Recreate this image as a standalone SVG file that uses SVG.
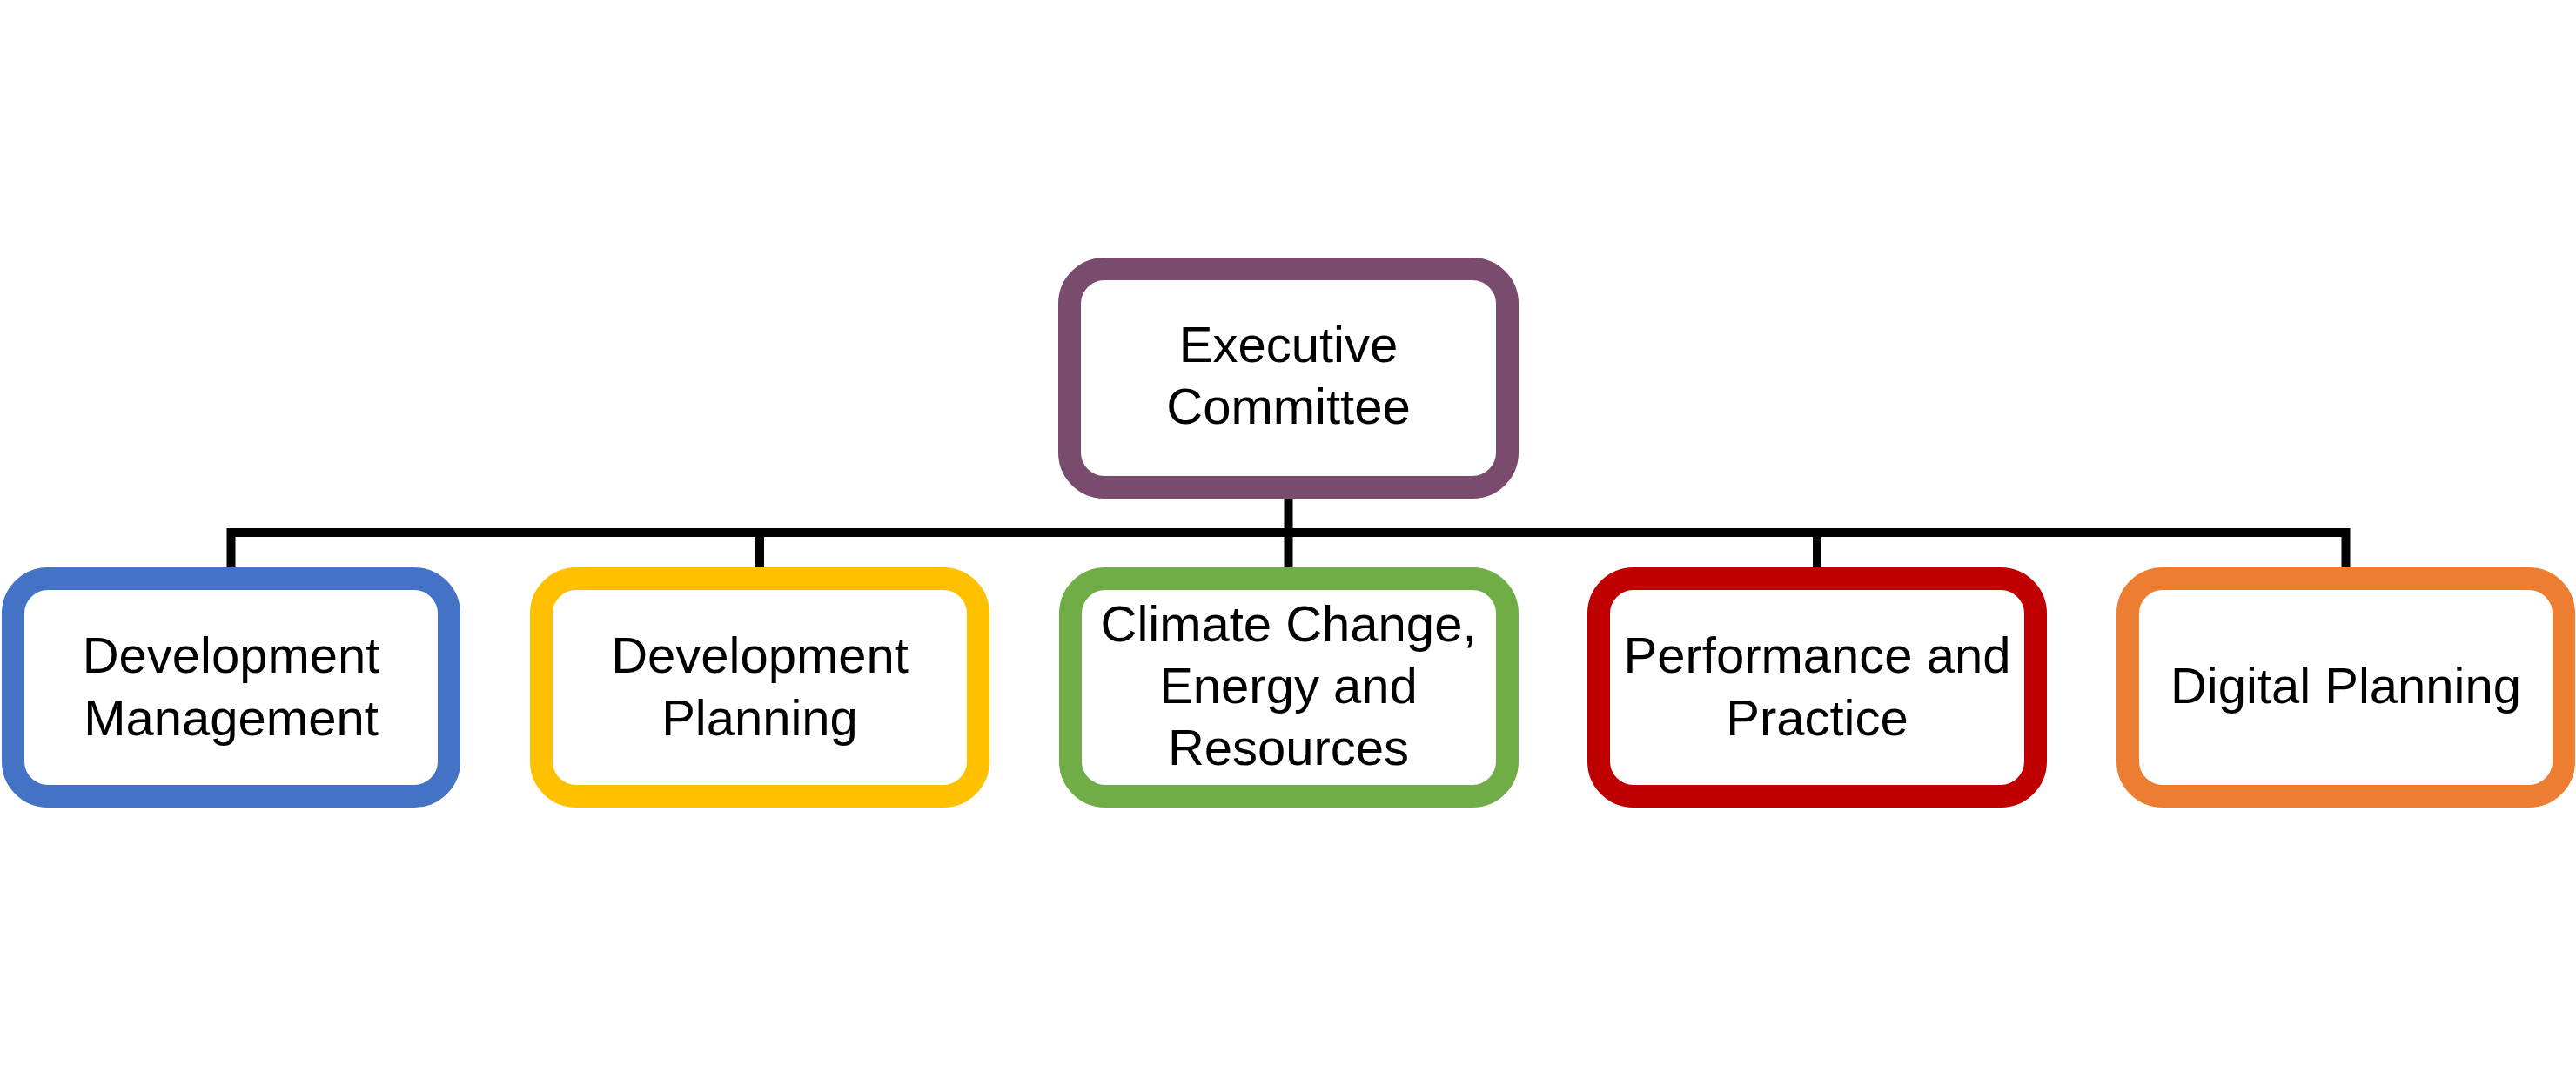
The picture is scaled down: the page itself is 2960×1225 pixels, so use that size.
<svg xmlns="http://www.w3.org/2000/svg" width="2960" height="1225" viewBox="0 0 2960 1225">
<style>
.box{fill:#ffffff;stroke-width:26}
.lbl{font-family:"Liberation Sans",Arial,sans-serif;font-size:58px;fill:#000000;text-anchor:middle}
.conn{fill:none;stroke:#000000;stroke-width:10;stroke-linejoin:miter;stroke-linecap:butt}
</style>
<rect x="0" y="0" width="2960" height="1225" fill="#ffffff"/>
<g id="connectors">
<path class="conn" d="M265.5,652 V612 H2695.5 V652"/>
<path class="conn" d="M1480.5,573 V652"/>
<path class="conn" d="M873,612 V652"/>
<path class="conn" d="M2088,612 V652"/>
</g>
<g id="executive-committee">
<rect class="box" x="1229" y="309" width="503" height="251" rx="40" ry="40" stroke="#794B6C"/>
<text class="lbl" x="1480.5" y="416">Executive</text>
<text class="lbl" x="1480.5" y="487">Committee</text>
</g>
<g id="development-management">
<rect class="box" x="15" y="665" width="501" height="250" rx="40" ry="40" stroke="#4472C4"/>
<text class="lbl" x="265.5" y="773">Development</text>
<text class="lbl" x="265.5" y="845">Management</text>
</g>
<g id="development-planning">
<rect class="box" x="622" y="665" width="502" height="250" rx="40" ry="40" stroke="#FFC000"/>
<text class="lbl" x="873" y="773">Development</text>
<text class="lbl" x="873" y="845">Planning</text>
</g>
<g id="climate-change">
<rect class="box" x="1230" y="665" width="502" height="250" rx="40" ry="40" stroke="#70AD47"/>
<text class="lbl" x="1480.5" y="737">Climate Change,</text>
<text class="lbl" x="1480.5" y="808">Energy and</text>
<text class="lbl" x="1480.5" y="879">Resources</text>
</g>
<g id="performance-practice">
<rect class="box" x="1837" y="665" width="502" height="250" rx="40" ry="40" stroke="#C00000"/>
<text class="lbl" x="2088" y="773">Performance and</text>
<text class="lbl" x="2088" y="845">Practice</text>
</g>
<g id="digital-planning">
<rect class="box" x="2445" y="665" width="501" height="250" rx="40" ry="40" stroke="#ED7D31"/>
<text class="lbl" x="2695.5" y="808">Digital Planning</text>
</g>
</svg>
